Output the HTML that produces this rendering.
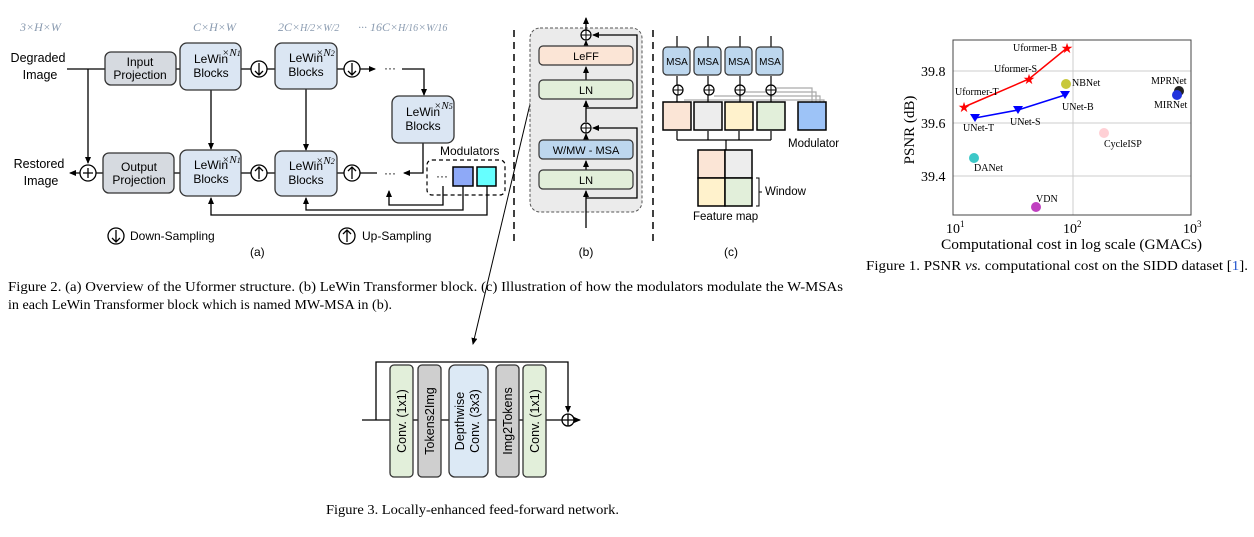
<!DOCTYPE html>
<html><head><meta charset="utf-8"><style>
body{margin:0;background:#fff;width:1254px;height:537px;overflow:hidden}
svg{display:block}
.s{font-family:"Liberation Sans",sans-serif}
.r{font-family:"Liberation Serif",serif}
</style></head><body>
<svg width="1254" height="537" viewBox="0 0 1254 537" xmlns="http://www.w3.org/2000/svg">
<defs>
<marker id="a" markerWidth="8" markerHeight="8" refX="6" refY="3" orient="auto" markerUnits="userSpaceOnUse"><path d="M0,0L7,3L0,6z" fill="#000"/></marker>
<marker id="g" markerWidth="8" markerHeight="8" refX="6" refY="3" orient="auto" markerUnits="userSpaceOnUse"><path d="M0,0L7,3L0,6z" fill="#aaa"/></marker>
</defs>
<g class="r" fill="#8a9bb0" font-size="12" font-style="italic">
<text x="20" y="31">3×H×W</text><text x="193" y="31">C×H×W</text>
<text x="278" y="31">2C×<tspan font-size="10">H/2</tspan>×<tspan font-size="10">W/2</tspan></text>
<text x="358" y="31">···  16C×<tspan font-size="10">H/16</tspan>×<tspan font-size="10">W/16</tspan></text>
</g>
<g class="s" font-size="12.5" fill="#000" stroke="none">
<text x="38" y="62" text-anchor="middle">Degraded</text><text x="40" y="79" text-anchor="middle">Image</text>
<text x="39" y="168" text-anchor="middle">Restored</text><text x="41" y="185" text-anchor="middle">Image</text>
</g>
<g stroke="#000" stroke-width="1.3" fill="none">
<path d="M67 69H105M88 69V163" marker-end="url(#a)"/>
<path d="M176 69H180M241 69H251M267 69H275M337 69H344M360 69H375" marker-end="url(#a)"/>
<path d="M402 69H424V95" marker-end="url(#a)"/>
<path d="M423 143V173H404" marker-end="url(#a)"/>
<path d="M211 90V149" marker-end="url(#a)"/><path d="M306 89V150" marker-end="url(#a)"/>
<path d="M103 173H96M80 173H70" marker-end="url(#a)"/>
<path d="M174 173H180M241 173H251M267 173H275M337 173H344M360 173H377"/>
<path d="M443 186V205H389V191" marker-end="url(#a)"/>
<path d="M463 186V210H306V198" marker-end="url(#a)"/>
<path d="M487 186V215H211V198" marker-end="url(#a)"/>
</g>
<g stroke="#333" stroke-width="1.3">
<rect x="105" y="52" width="71" height="33" rx="6" fill="#d6dae0"/>
<rect x="103" y="153" width="71" height="40" rx="6" fill="#d6dae0"/>
<rect x="180" y="43" width="61" height="47" rx="7" fill="#dbe6f3"/>
<rect x="275" y="43" width="62" height="46" rx="7" fill="#dbe6f3"/>
<rect x="392" y="96" width="62" height="47" rx="7" fill="#dbe6f3"/>
<rect x="180" y="150" width="61" height="46" rx="7" fill="#dbe6f3"/>
<rect x="275" y="151" width="62" height="45" rx="7" fill="#dbe6f3"/>
</g>
<g class="s" font-size="12" text-anchor="middle">
<text x="140" y="66">Input</text><text x="140" y="79">Projection</text>
<text x="139" y="171">Output</text><text x="139" y="184">Projection</text>
<text x="211" y="63">LeWin</text><text x="211" y="77">Blocks</text>
<text x="306" y="62">LeWin</text><text x="306" y="76">Blocks</text>
<text x="423" y="116">LeWin</text><text x="423" y="130">Blocks</text>
<text x="211" y="169">LeWin</text><text x="211" y="183">Blocks</text>
<text x="306" y="170">LeWin</text><text x="306" y="184">Blocks</text>
<text x="390" y="72">···</text><text x="390" y="177">···</text><text x="442" y="180">···</text>
</g>
<g class="r" font-size="11" font-style="italic">
<text x="222" y="56">×N<tspan font-size="8">1</tspan></text><text x="316" y="56">×N<tspan font-size="8">2</tspan></text>
<text x="434" y="109">×N<tspan font-size="8">5</tspan></text><text x="222" y="163">×N<tspan font-size="8">1</tspan></text><text x="316" y="164">×N<tspan font-size="8">2</tspan></text>
</g>
<g stroke="#000" stroke-width="1.3" fill="#fff">
<circle cx="259" cy="69" r="8"/><circle cx="352" cy="69" r="8"/>
<circle cx="259" cy="173" r="8"/><circle cx="352" cy="173" r="8"/>
<circle cx="88" cy="173" r="8"/>
<circle cx="116" cy="236" r="8"/><circle cx="347" cy="236" r="8"/>
</g>
<g stroke="#000" stroke-width="1.3" fill="none">
<path d="M259 63V75M255 71L259 75L263 71M352 63V75M348 71L352 75L356 71M116 230V242M112 238L116 242L120 238"/>
<path d="M259 167V179M255 171L259 167L263 171M352 167V179M348 171L352 167L356 171M347 230V242M343 234L347 230L351 234"/>
<path d="M83 173H93M88 168V178"/>
</g>
<g class="s" font-size="12"><text x="130" y="240">Down-Sampling</text><text x="362" y="240">Up-Sampling</text>
<text x="250" y="256">(a)</text><text x="440" y="155">Modulators</text></g>
<rect x="427" y="160" width="78" height="35" rx="5" fill="none" stroke="#000" stroke-dasharray="4,3" stroke-width="1.2"/>
<rect x="453" y="167" width="20" height="19" fill="#8ea9f7" stroke="#000" stroke-width="1.5"/>
<rect x="477" y="167" width="19" height="19" fill="#66ffff" stroke="#000" stroke-width="1.5"/>
<path d="M540 62L473 344" stroke="#000" stroke-width="1" marker-end="url(#a)"/>
<path d="M514 30V245M653 30V245" stroke="#000" stroke-width="1.5" stroke-dasharray="7,5"/>
<rect x="530" y="28" width="112" height="184" rx="10" fill="#ebebeb" stroke="#555" stroke-dasharray="3,2"/>
<g stroke="#000" stroke-width="1.3" fill="none">
<path d="M586 228V191" marker-end="url(#a)"/><path d="M586 170V161" marker-end="url(#a)"/><path d="M586 140V134" marker-end="url(#a)"/>
<path d="M586 122V101" marker-end="url(#a)"/><path d="M586 80V67" marker-end="url(#a)"/><path d="M586 46V41" marker-end="url(#a)"/>
<path d="M586 30V18" marker-end="url(#a)"/>
<path d="M586 198H637V128H593" marker-end="url(#a)"/><path d="M586 108H637V35H593" marker-end="url(#a)"/>
</g>
<g stroke="#333" stroke-width="1.2">
<rect x="539" y="46" width="94" height="19" rx="4" fill="#fbe5d6"/>
<rect x="539" y="80" width="94" height="19" rx="4" fill="#e2efda"/>
<rect x="539" y="140" width="94" height="19" rx="4" fill="#bdd7ee"/>
<rect x="539" y="170" width="94" height="19" rx="4" fill="#e2efda"/>
</g>
<g stroke="#000" stroke-width="1.2" fill="#fff"><circle cx="586" cy="35" r="5"/><circle cx="586" cy="128" r="5"/></g>
<path d="M581 35H591M586 30V40M581 128H591M586 123V133" stroke="#000"/>
<g class="s" font-size="11" text-anchor="middle"><text x="586" y="60">LeFF</text><text x="586" y="94">LN</text><text x="586" y="154">W/MW - MSA</text><text x="586" y="184">LN</text>
<text x="586" y="256" font-size="12">(b)</text></g>
<g stroke="#aaa" stroke-width="1.2" fill="none">
<path d="M812 102V88H776M816 102V92H745M820 102V96H714M824 102V100H684"/>
</g>
<g stroke="#000" stroke-width="1.2" fill="none">
<path d="M726 150V140M677 140H771M677 140V131M708 140V131M739 140V131M771 140V131"/>
<path d="M677 102V95M708 102V95M740 102V95M771 102V95M677 85V76M708 85V76M740 85V76M771 85V76M677 47V36M708 47V36M740 47V36M771 47V36"/>
</g>
<g stroke="#333" stroke-width="1.2" fill="#bdd7ee">
<rect x="663" y="47" width="27" height="28" rx="4"/><rect x="694" y="47" width="27" height="28" rx="4"/><rect x="725" y="47" width="27" height="28" rx="4"/><rect x="756" y="47" width="27" height="28" rx="4"/>
</g>
<g class="s" font-size="10" text-anchor="middle"><text x="677" y="65">MSA</text><text x="708" y="65">MSA</text><text x="739" y="65">MSA</text><text x="770" y="65">MSA</text></g>
<g stroke="#000" stroke-width="1.2" fill="#fff"><circle cx="678" cy="90" r="5"/><circle cx="709" cy="90" r="5"/><circle cx="740" cy="90" r="5"/><circle cx="771" cy="90" r="5"/></g>
<path d="M673 90H683M678 85V95M704 90H714M709 85V95M735 90H745M740 85V95M766 90H776M771 85V95" stroke="#000"/>
<g stroke="#000" stroke-width="1.5">
<rect x="663" y="102" width="28" height="28" fill="#fbe5d6"/><rect x="694" y="102" width="28" height="28" fill="#ededed"/>
<rect x="725" y="102" width="28" height="28" fill="#fff2cc"/><rect x="757" y="102" width="28" height="28" fill="#e2efda"/>
<rect x="798" y="102" width="28" height="28" fill="#9dc3f7"/>
<rect x="698" y="150" width="27" height="28" fill="#fbe5d6"/><rect x="725" y="150" width="27" height="28" fill="#ededed"/>
<rect x="698" y="178" width="27" height="28" fill="#fff2cc"/><rect x="725" y="178" width="27" height="28" fill="#e2efda"/>
</g>
<path d="M756 178H759V206H756M759 192H762" stroke="#000" fill="none"/>
<g class="s" font-size="11.5"><text x="788" y="147">Modulator</text><text x="765" y="195">Window</text><text x="693" y="220">Feature map</text><text x="724" y="256" font-size="12">(c)</text></g>
<g class="r" font-size="14">
<text x="8" y="291" textLength="835" lengthAdjust="spacingAndGlyphs">Figure 2. (a) Overview of the Uformer structure. (b) LeWin Transformer block. (c) Illustration of how the modulators modulate the W-MSAs</text>
<text x="8" y="309" textLength="384" lengthAdjust="spacingAndGlyphs">in each LeWin Transformer block which is named MW-MSA in (b).</text>
<text x="866" y="270" textLength="382" lengthAdjust="spacingAndGlyphs">Figure 1. PSNR <tspan font-style="italic">vs.</tspan> computational cost on the SIDD dataset [<tspan fill="#2255cc">1</tspan>].</text>
<text x="326" y="514" textLength="293" lengthAdjust="spacingAndGlyphs">Figure 3. Locally-enhanced feed-forward network.</text>
</g>
<g stroke="#ccc" stroke-width="1"><path d="M953 71H1191M953 123H1191M953 176H1191M1073 40V215"/></g>
<rect x="953" y="40" width="238" height="175" fill="none" stroke="#444"/>
<g class="r" font-size="14"><text x="921" y="76">39.8</text><text x="921" y="128">39.6</text><text x="921" y="181">39.4</text>
<text x="946" y="233">10<tspan font-size="9" dy="-6">1</tspan></text><text x="1063" y="233">10<tspan font-size="9" dy="-6">2</tspan></text><text x="1183" y="233">10<tspan font-size="9" dy="-6">3</tspan></text>
<text x="941" y="249" font-size="15" textLength="261" lengthAdjust="spacingAndGlyphs">Computational cost in log scale (GMACs)</text>
<text transform="translate(914,130) rotate(-90)" text-anchor="middle" font-size="15">PSNR (dB)</text></g>
<path d="M964 107L1029 79L1067 48" stroke="#f00" stroke-width="1.5" fill="none"/>
<path d="M975 118L1018 110L1065 95" stroke="#00f" stroke-width="1.5" fill="none"/>
<g fill="#f00" font-size="14" text-anchor="middle" class="s"><text x="964" y="112">★</text><text x="1029" y="84">★</text><text x="1067" y="53">★</text></g>
<g fill="#00f"><path d="M970 114h10l-5 8z"/><path d="M1013 106h10l-5 8z"/><path d="M1060 91h10l-5 8z"/></g>
<circle cx="1066" cy="84" r="5" fill="#c8c83a"/><circle cx="1179" cy="91" r="5" fill="#222"/><circle cx="1177" cy="95" r="5" fill="#2233dd"/>
<circle cx="1104" cy="133" r="5" fill="#ffd0d5"/><circle cx="974" cy="158" r="5" fill="#3cc8c8"/><circle cx="1036" cy="207" r="5" fill="#c040c0"/>
<g class="r" font-size="10">
<text x="1013" y="51">Uformer-B</text><text x="994" y="72">Uformer-S</text><text x="955" y="95">Uformer-T</text>
<text x="1072" y="86">NBNet</text><text x="1151" y="84">MPRNet</text><text x="1154" y="108">MIRNet</text>
<text x="1062" y="110">UNet-B</text><text x="1010" y="125">UNet-S</text><text x="963" y="131">UNet-T</text>
<text x="1104" y="147">CycleISP</text><text x="974" y="171">DANet</text><text x="1036" y="202">VDN</text></g>
<g stroke="#000" stroke-width="1.3" fill="none">
<path d="M362 420H580" marker-end="url(#a)"/>
<path d="M376 420V362H568V412" marker-end="url(#a)"/>
</g>
<g stroke="#333" stroke-width="1.3">
<rect x="390" y="365" width="23" height="112" rx="4" fill="#e2efda"/>
<rect x="418" y="365" width="23" height="112" rx="4" fill="#cfcfcf"/>
<rect x="449" y="365" width="39" height="112" rx="6" fill="#dce9f5"/>
<rect x="496" y="365" width="23" height="112" rx="4" fill="#cfcfcf"/>
<rect x="523" y="365" width="23" height="112" rx="4" fill="#e2efda"/>
</g>
<circle cx="568" cy="420" r="6" fill="#fff" stroke="#000" stroke-width="1.3"/>
<path d="M562 420H574M568 414V426" stroke="#000" stroke-width="1.3"/>
<g class="s" font-size="12.5" text-anchor="middle">
<text transform="translate(406,421) rotate(-90)">Conv. (1x1)</text>
<text transform="translate(434,421) rotate(-90)">Tokens2Img</text>
<text transform="translate(464,421) rotate(-90)">Depthwise</text>
<text transform="translate(479,421) rotate(-90)">Conv. (3x3)</text>
<text transform="translate(512,421) rotate(-90)">Img2Tokens</text>
<text transform="translate(539,421) rotate(-90)">Conv. (1x1)</text>
</g>
</svg>
</body></html>
